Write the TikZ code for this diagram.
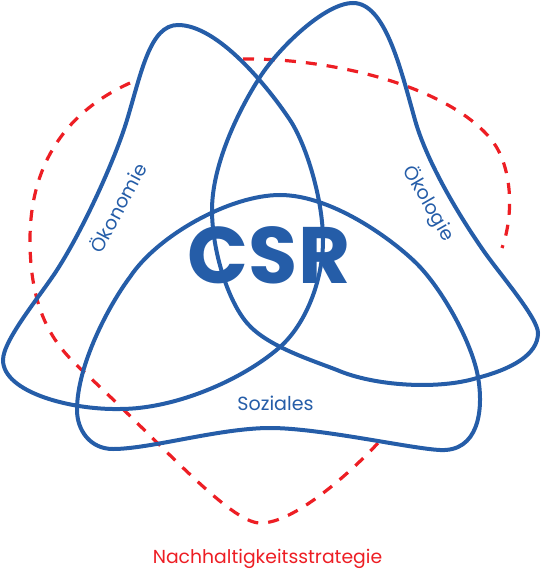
\documentclass[tikz,border=0pt]{standalone}
\usepackage{fontspec}
\setmainfont{Poppins}
\usepackage{xcolor}
\definecolor{csrblue}{RGB}{37,93,168}
\definecolor{csrred}{RGB}{237,30,36}

\begin{document}
\begin{tikzpicture}[x=0.75pt,y=0.75pt,yscale=-1,xscale=1,
  pillar/.style={draw=csrblue, line width=3pt},
  strategy/.style={draw=csrred, line width=2.4pt, dash pattern=on 8.25pt off 7.5pt},
  pillarlabel/.style={text=csrblue, font=\fontsize{14.3}{17}\selectfont, inner sep=0pt}]
\useasboundingbox (0,0) rectangle (541,570);

% Dashed Curve
\draw [strategy] (243,59) .. controls (330,58) and (445,85) .. (490,138) .. controls (513,165) and (514,215) .. (502,248) ;
% Dashed Curve
\draw [strategy] (130,83) .. controls (70,110) and (30,160) .. (30,240) .. controls (30,320) and (60,350) .. (85,373) .. controls (159,441) and (230,523) .. (260,523) .. controls (295,524) and (355,468) .. (378,443) ;

% Curve Shape
\draw [pillar] (178,25) .. controls (218,25) and (268,87) .. (290,120) .. controls (306.5,145) and (323,200) .. (323,240) .. controls (323,280) and (306,324) .. (280,347) .. controls (242.5,380) and (175,409) .. (120,409) .. controls (70,410) and (3,392) .. (3,360) .. controls (3,340) and (40.8,295.2) .. (57,270) .. controls (84,228) and (115.4,158.4) .. (127,120) .. controls (141.5,72) and (150,25) .. (178,25) -- cycle ;
% Curve Shape
\draw [pillar] (353,3) .. controls (325,3) and (279,47.6) .. (260,77) .. controls (238.2,110.6) and (212,165) .. (212,210) .. controls (212,250) and (227.5,300.2) .. (247,323) .. controls (266.5,345.8) and (309,359.2) .. (337,370) .. controls (374,386) and (438,390) .. (477,378) .. controls (511,369.25) and (538,355) .. (538,333) .. controls (538,318) and (500.1,274.6) .. (483,250) .. controls (454.5,209) and (425.8,158.4) .. (415,120) .. controls (400.2,67.2) and (385,3) .. (353,3) -- cycle ;
% Curve Shape
\draw [pillar] (280,195) .. controls (335,195) and (399.6,245.1) .. (420,267) .. controls (443.8,292.6) and (472,342.7) .. (478,377) .. controls (484,411.3) and (478,452) .. (440,450) .. controls (410,448.5) and (320,428) .. (270,428) .. controls (220,428) and (150,449) .. (113,449) .. controls (90,449) and (77,430) .. (77,410) .. controls (77,365) and (109,305) .. (130,277) .. controls (157.5,235.5) and (230,195) .. (280,195) -- cycle ;

% Text Node
\draw (269,283) node (csr) [anchor=base, text=csrblue, font=\fontsize{60}{72}\selectfont\bfseries, inner sep=0pt] {CSR};
% Text Node
\draw (117.5,207.5) node (oekonomie) [pillarlabel, rotate=62] {Ökonomie};
% Text Node
\draw (428.5,203.5) node (oekologie) [pillarlabel, rotate=-60] {Ökologie};
% Text Node
\draw (275.5,410) node (soziales) [pillarlabel, anchor=base] {Soziales};
% Text Node
\draw (267.5,563) node (strategie) [anchor=base, text=csrred, font=\fontsize{14.1}{17}\selectfont, inner sep=0pt] {Nachhaltigkeitsstrategie};

\end{tikzpicture}
\end{document}
